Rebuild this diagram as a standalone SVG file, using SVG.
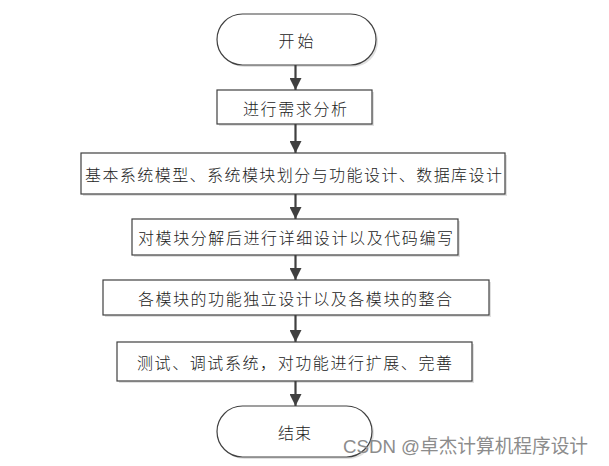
<svg xmlns="http://www.w3.org/2000/svg" width="609" height="466" viewBox="0 0 609 466">
<style>
.shadow{fill:#e0e0e0;stroke:none}
.box{fill:#ffffff;stroke:#404040;stroke-width:1.2}
.lbl{font-family:"Noto Sans CJK SC","Liberation Sans",sans-serif;font-size:16px;font-weight:300;fill:#222222;text-anchor:middle;dominant-baseline:central}
.edge{stroke:#404040;stroke-width:2.2;fill:none}
.wm{font-family:"Liberation Sans","Noto Sans CJK SC",sans-serif;font-size:19px;fill:#8c8c8c}
</style>
<defs>
<marker id="ah" markerWidth="12" markerHeight="12" viewBox="0 0 12 12" refX="12" refY="6" orient="auto" markerUnits="userSpaceOnUse">
<path d="M0,0 L12,6 L0,12 z" fill="#404040"/>
</marker>
</defs>
<rect width="609" height="466" fill="#ffffff"/>
<g id="start">
<rect class="shadow" x="219" y="16" width="159" height="51" rx="25.5"/>
<rect class="box" x="217" y="14" width="159" height="51" rx="25.5"/>
<text class="lbl" x="296" y="40" textLength="35" lengthAdjust="spacing">开始</text>
</g>
<g id="n1">
<rect class="shadow" x="219" y="92" width="155" height="34"/>
<rect class="box" x="217" y="90" width="155" height="34"/>
<text class="lbl" x="295" y="107.5" textLength="104" lengthAdjust="spacing">进行需求分析</text>
</g>
<g id="n2">
<rect class="shadow" x="83" y="155" width="424" height="41"/>
<rect class="box" x="81" y="153" width="424" height="41"/>
<text class="lbl" x="293.5" y="173.5" textLength="417" lengthAdjust="spacing">基本系统模型、系统模块划分与功能设计、数据库设计</text>
</g>
<g id="n3">
<rect class="shadow" x="134" y="221" width="326" height="36"/>
<rect class="box" x="132" y="219" width="326" height="36"/>
<text class="lbl" x="295.5" y="237" textLength="315" lengthAdjust="spacing">对模块分解后进行详细设计以及代码编写</text>
</g>
<g id="n4">
<rect class="shadow" x="105" y="282" width="386" height="35"/>
<rect class="box" x="103" y="280" width="386" height="35"/>
<text class="lbl" x="295" y="297.5" textLength="314" lengthAdjust="spacing">各模块的功能独立设计以及各模块的整合</text>
</g>
<g id="n5">
<rect class="shadow" x="119" y="344" width="355" height="39"/>
<rect class="box" x="117" y="342" width="355" height="39"/>
<text class="lbl" x="294.5" y="361.5" textLength="315" lengthAdjust="spacing">测试、调试系统，对功能进行扩展、完善</text>
</g>
<g id="end">
<rect class="shadow" x="219" y="408" width="155" height="51" rx="25.5"/>
<rect class="box" x="217" y="406" width="155" height="51" rx="25.5"/>
<text class="lbl" x="294.5" y="432" textLength="33" lengthAdjust="spacing">结束</text>
</g>
<g id="connectors">
<line class="edge" x1="295.5" y1="65" x2="295.5" y2="90" marker-end="url(#ah)"/>
<line class="edge" x1="295.5" y1="124" x2="295.5" y2="153" marker-end="url(#ah)"/>
<line class="edge" x1="295.5" y1="194" x2="295.5" y2="219" marker-end="url(#ah)"/>
<line class="edge" x1="295.5" y1="255" x2="295.5" y2="280" marker-end="url(#ah)"/>
<line class="edge" x1="295.5" y1="315" x2="295.5" y2="342" marker-end="url(#ah)"/>
<line class="edge" x1="295.5" y1="381" x2="295.5" y2="406" marker-end="url(#ah)"/>
</g>
<text class="wm" x="343" y="453" textLength="245" lengthAdjust="spacingAndGlyphs">CSDN @卓杰计算机程序设计</text>
</svg>
